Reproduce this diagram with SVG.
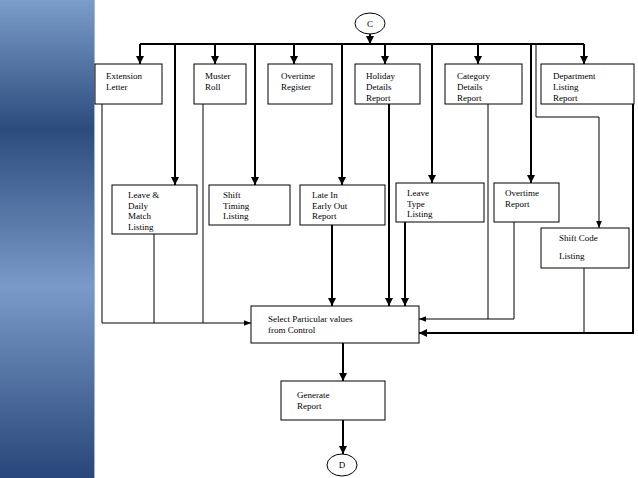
<svg xmlns="http://www.w3.org/2000/svg" width="638" height="478" viewBox="0 0 638 478">
<style>
.b{fill:#fff;stroke:#000;stroke-width:1}
.t{font-family:"Liberation Serif",serif;font-size:9px;fill:#000}
.k{stroke:#000;stroke-width:2;fill:none}
.n{stroke:#000;stroke-width:1;fill:none}
</style>
<defs>
<linearGradient id="g" x1="0" y1="0" x2="0" y2="1">
<stop offset="0" stop-color="#7b9dca"/>
<stop offset="0.27" stop-color="#2b4c7d"/>
<stop offset="0.6" stop-color="#7a9bc9"/>
<stop offset="1" stop-color="#284679"/>
</linearGradient>
<marker id="a" viewBox="0 0 10 10" refX="10" refY="5" markerWidth="4" markerHeight="4" orient="auto"><path d="M0,0L10,5L0,10z" fill="#000"/></marker>
<marker id="s" viewBox="0 0 10 10" refX="10" refY="5" markerWidth="7" markerHeight="7" orient="auto"><path d="M0,1L10,5L0,9z" fill="#000"/></marker>
</defs>
<rect width="638" height="478" fill="#fff"/>
<rect width="95" height="478" fill="url(#g)"/>
<line x1="94.5" y1="0" x2="94.5" y2="478" stroke="#9fb6d6" stroke-width="1"/>
<g id="connectors">
<line class="k" x1="370" y1="34" x2="370" y2="44" marker-end="url(#a)"/>
<line class="k" x1="140" y1="44" x2="584" y2="44"/>
<line class="k" x1="140" y1="44" x2="140" y2="64" marker-end="url(#a)"/>
<line class="k" x1="175" y1="44" x2="175" y2="185" marker-end="url(#a)"/>
<line class="k" x1="215" y1="44" x2="215" y2="64" marker-end="url(#a)"/>
<line class="k" x1="255" y1="44" x2="255" y2="185" marker-end="url(#a)"/>
<line class="k" x1="294" y1="44" x2="294" y2="64" marker-end="url(#a)"/>
<line class="k" x1="342" y1="44" x2="342" y2="185" marker-end="url(#a)"/>
<line class="k" x1="385" y1="44" x2="385" y2="64" marker-end="url(#a)"/>
<line class="k" x1="432" y1="44" x2="432" y2="183" marker-end="url(#a)"/>
<line class="k" x1="478" y1="44" x2="478" y2="64" marker-end="url(#a)"/>
<line class="k" x1="531" y1="44" x2="531" y2="183" marker-end="url(#a)"/>
<line class="k" x1="584" y1="44" x2="584" y2="64" marker-end="url(#a)"/>
<polyline class="n" points="536,44 536,117 599,117 599,228" marker-end="url(#s)"/>
<polyline class="n" points="102,104 102,323 251,323" marker-end="url(#s)"/>
<line class="n" x1="154" y1="234" x2="154" y2="323"/>
<line class="n" x1="203" y1="104" x2="203" y2="323"/>
<line class="k" x1="332" y1="225" x2="332" y2="306" marker-end="url(#a)"/>
<line class="k" x1="389" y1="104" x2="389" y2="306" marker-end="url(#a)"/>
<line class="k" x1="405" y1="222" x2="405" y2="306" marker-end="url(#a)"/>
<polyline class="n" points="514,222 514,319 419,319" marker-end="url(#s)"/>
<line class="n" x1="488" y1="104" x2="488" y2="319"/>
<polyline class="k" points="633,104 633,333 419,333" marker-end="url(#a)"/>
<line class="n" x1="584" y1="268" x2="584" y2="333"/>
<line class="k" x1="343" y1="343" x2="343" y2="381" marker-end="url(#a)"/>
<line class="k" x1="343" y1="420" x2="343" y2="454" marker-end="url(#a)"/>
</g>
<g id="c"><ellipse cx="370" cy="23.5" rx="15" ry="10.5" fill="#fff" stroke="#000"/><text class="t" x="370" y="27" text-anchor="middle">C</text></g>
<g id="extension"><rect class="b" x="95" y="64" width="67" height="40"/><text class="t" x="106" y="79">Extension</text><text class="t" x="106" y="90">Letter</text></g>
<g id="muster"><rect class="b" x="194" y="64" width="52" height="40"/><text class="t" x="205" y="79">Muster</text><text class="t" x="205" y="90">Roll</text></g>
<g id="otreg"><rect class="b" x="268" y="64" width="64" height="40"/><text class="t" x="281" y="79">Overtime</text><text class="t" x="281" y="90">Register</text></g>
<g id="holiday"><rect class="b" x="355" y="64" width="65" height="40"/><text class="t" x="366" y="79">Holiday</text><text class="t" x="366" y="90">Details</text><text class="t" x="366" y="101">Report</text></g>
<g id="category"><rect class="b" x="445" y="64" width="77" height="40"/><text class="t" x="457" y="79">Category</text><text class="t" x="457" y="90">Details</text><text class="t" x="457" y="101">Report</text></g>
<g id="department"><rect class="b" x="541" y="64" width="93" height="40"/><text class="t" x="553" y="79">Department</text><text class="t" x="553" y="90">Listing</text><text class="t" x="553" y="101">Report</text></g>
<g id="leave"><rect class="b" x="112" y="185" width="85" height="49"/><text class="t" x="128" y="198">Leave &amp;</text><text class="t" x="128" y="209">Daily</text><text class="t" x="128" y="219">Match</text><text class="t" x="128" y="230">Listing</text></g>
<g id="shifttiming"><rect class="b" x="209" y="185" width="81" height="40"/><text class="t" x="223" y="198">Shift</text><text class="t" x="223" y="209">Timing</text><text class="t" x="223" y="219">Listing</text></g>
<g id="latein"><rect class="b" x="300" y="185" width="85" height="40"/><text class="t" x="312" y="198">Late In</text><text class="t" x="312" y="209">Early Out</text><text class="t" x="312" y="219">Report</text></g>
<g id="leavetype"><rect class="b" x="396" y="183" width="88" height="39"/><text class="t" x="407" y="196">Leave</text><text class="t" x="407" y="207">Type</text><text class="t" x="407" y="217">Listing</text></g>
<g id="otreport"><rect class="b" x="494" y="183" width="65" height="39"/><text class="t" x="505" y="196">Overtime</text><text class="t" x="505" y="207">Report</text></g>
<g id="shiftcode"><rect class="b" x="541" y="228" width="88" height="40"/><text class="t" x="559" y="241">Shift Code</text><text class="t" x="559" y="259">Listing</text></g>
<g id="select"><rect class="b" x="251" y="306" width="168" height="37"/><text class="t" x="268" y="322">Select Particular values</text><text class="t" x="268" y="333">from Control</text></g>
<g id="generate"><rect class="b" x="281" y="381" width="104" height="39"/><text class="t" x="297" y="398">Generate</text><text class="t" x="297" y="409">Report</text></g>
<g id="d"><ellipse cx="342" cy="465" rx="15" ry="11" fill="#fff" stroke="#000"/><text class="t" x="342" y="468" text-anchor="middle">D</text></g>
</svg>
